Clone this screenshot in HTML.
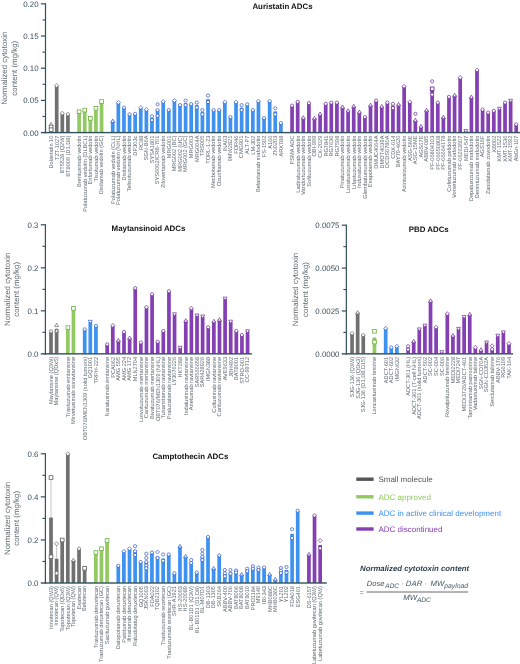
<!DOCTYPE html>
<html><head><meta charset="utf-8"><title>ADC normalized cytotoxin content</title>
<style>
html,body{margin:0;padding:0;background:#fff;}
svg{display:block;font-family:"Liberation Sans",Arial,sans-serif;text-rendering:geometricPrecision;}
</style></head>
<body>
<svg width="520" height="664" viewBox="0 0 520 664">
<rect width="520" height="664" fill="#fff"/>
<rect x="49.25" y="126.10" width="3.7" height="6.50" fill="#707070"/>
<rect x="54.85" y="85.50" width="3.7" height="47.10" fill="#707070"/>
<rect x="60.46" y="113.20" width="3.7" height="19.40" fill="#707070"/>
<rect x="66.06" y="114.20" width="3.7" height="18.40" fill="#707070"/>
<rect x="77.27" y="111.70" width="3.7" height="20.90" fill="#93c962"/>
<rect x="82.87" y="110.10" width="3.7" height="22.50" fill="#93c962"/>
<rect x="88.48" y="118.35" width="3.7" height="14.25" fill="#93c962"/>
<rect x="94.08" y="108.35" width="3.7" height="24.25" fill="#93c962"/>
<rect x="99.69" y="101.50" width="3.7" height="31.10" fill="#93c962"/>
<rect x="110.89" y="120.85" width="3.7" height="11.75" fill="#3d92f0"/>
<rect x="116.50" y="102.60" width="3.7" height="30.00" fill="#3d92f0"/>
<rect x="122.10" y="107.60" width="3.7" height="25.00" fill="#3d92f0"/>
<rect x="127.71" y="114.35" width="3.7" height="18.25" fill="#3d92f0"/>
<rect x="133.31" y="113.85" width="3.7" height="18.75" fill="#3d92f0"/>
<rect x="138.91" y="107.60" width="3.7" height="25.00" fill="#3d92f0"/>
<rect x="144.52" y="109.60" width="3.7" height="23.00" fill="#3d92f0"/>
<rect x="150.12" y="118.10" width="3.7" height="14.50" fill="#3d92f0"/>
<rect x="155.73" y="110.10" width="3.7" height="22.50" fill="#3d92f0"/>
<rect x="161.33" y="101.60" width="3.7" height="31.00" fill="#3d92f0"/>
<rect x="166.93" y="110.10" width="3.7" height="22.50" fill="#3d92f0"/>
<rect x="172.54" y="100.60" width="3.7" height="32.00" fill="#3d92f0"/>
<rect x="178.14" y="105.10" width="3.7" height="27.50" fill="#3d92f0"/>
<rect x="183.75" y="103.10" width="3.7" height="29.50" fill="#3d92f0"/>
<rect x="189.35" y="104.10" width="3.7" height="28.50" fill="#3d92f0"/>
<rect x="194.95" y="105.10" width="3.7" height="27.50" fill="#3d92f0"/>
<rect x="200.56" y="112.10" width="3.7" height="20.50" fill="#3d92f0"/>
<rect x="206.16" y="99.10" width="3.7" height="33.50" fill="#3d92f0"/>
<rect x="211.77" y="110.10" width="3.7" height="22.50" fill="#3d92f0"/>
<rect x="217.37" y="110.10" width="3.7" height="22.50" fill="#3d92f0"/>
<rect x="222.97" y="102.10" width="3.7" height="30.50" fill="#3d92f0"/>
<rect x="228.58" y="117.10" width="3.7" height="15.50" fill="#3d92f0"/>
<rect x="234.18" y="102.10" width="3.7" height="30.50" fill="#3d92f0"/>
<rect x="239.79" y="107.60" width="3.7" height="25.00" fill="#3d92f0"/>
<rect x="245.39" y="104.35" width="3.7" height="28.25" fill="#3d92f0"/>
<rect x="250.99" y="110.10" width="3.7" height="22.50" fill="#3d92f0"/>
<rect x="256.60" y="101.10" width="3.7" height="31.50" fill="#3d92f0"/>
<rect x="262.20" y="118.10" width="3.7" height="14.50" fill="#3d92f0"/>
<rect x="267.81" y="101.10" width="3.7" height="31.50" fill="#3d92f0"/>
<rect x="273.41" y="111.35" width="3.7" height="21.25" fill="#3d92f0"/>
<rect x="279.01" y="123.10" width="3.7" height="9.50" fill="#3d92f0"/>
<rect x="290.22" y="105.60" width="3.7" height="27.00" fill="#843fb2"/>
<rect x="295.83" y="101.85" width="3.7" height="30.75" fill="#843fb2"/>
<rect x="301.43" y="117.60" width="3.7" height="15.00" fill="#843fb2"/>
<rect x="307.03" y="103.10" width="3.7" height="29.50" fill="#843fb2"/>
<rect x="312.64" y="118.10" width="3.7" height="14.50" fill="#843fb2"/>
<rect x="318.24" y="113.85" width="3.7" height="18.75" fill="#843fb2"/>
<rect x="323.85" y="103.85" width="3.7" height="28.75" fill="#843fb2"/>
<rect x="329.45" y="102.60" width="3.7" height="30.00" fill="#843fb2"/>
<rect x="335.05" y="102.60" width="3.7" height="30.00" fill="#843fb2"/>
<rect x="340.66" y="106.85" width="3.7" height="25.75" fill="#843fb2"/>
<rect x="346.26" y="110.60" width="3.7" height="22.00" fill="#843fb2"/>
<rect x="351.87" y="106.10" width="3.7" height="26.50" fill="#843fb2"/>
<rect x="357.47" y="111.85" width="3.7" height="20.75" fill="#843fb2"/>
<rect x="363.07" y="117.10" width="3.7" height="15.50" fill="#843fb2"/>
<rect x="368.68" y="105.10" width="3.7" height="27.50" fill="#843fb2"/>
<rect x="374.28" y="100.60" width="3.7" height="32.00" fill="#843fb2"/>
<rect x="379.89" y="106.35" width="3.7" height="26.25" fill="#843fb2"/>
<rect x="385.49" y="102.60" width="3.7" height="30.00" fill="#843fb2"/>
<rect x="391.09" y="105.60" width="3.7" height="27.00" fill="#843fb2"/>
<rect x="396.70" y="104.35" width="3.7" height="28.25" fill="#843fb2"/>
<rect x="402.30" y="86.35" width="3.7" height="46.25" fill="#843fb2"/>
<rect x="407.91" y="101.85" width="3.7" height="30.75" fill="#843fb2"/>
<rect x="413.51" y="120.10" width="3.7" height="12.50" fill="#843fb2"/>
<rect x="419.11" y="126.35" width="3.7" height="6.25" fill="#843fb2"/>
<rect x="424.72" y="110.10" width="3.7" height="22.50" fill="#843fb2"/>
<rect x="430.32" y="88.85" width="3.7" height="43.75" fill="#843fb2"/>
<rect x="435.93" y="102.60" width="3.7" height="30.00" fill="#843fb2"/>
<rect x="441.53" y="117.10" width="3.7" height="15.50" fill="#843fb2"/>
<rect x="447.13" y="96.85" width="3.7" height="35.75" fill="#843fb2"/>
<rect x="452.74" y="95.10" width="3.7" height="37.50" fill="#843fb2"/>
<rect x="458.34" y="77.60" width="3.7" height="55.00" fill="#843fb2"/>
<rect x="463.95" y="131.10" width="3.7" height="1.50" fill="#843fb2"/>
<rect x="469.55" y="96.85" width="3.7" height="35.75" fill="#843fb2"/>
<rect x="475.15" y="70.10" width="3.7" height="62.50" fill="#843fb2"/>
<rect x="480.76" y="109.60" width="3.7" height="23.00" fill="#843fb2"/>
<rect x="486.36" y="112.60" width="3.7" height="20.00" fill="#843fb2"/>
<rect x="491.97" y="110.85" width="3.7" height="21.75" fill="#843fb2"/>
<rect x="497.57" y="108.85" width="3.7" height="23.75" fill="#843fb2"/>
<rect x="503.17" y="102.60" width="3.7" height="30.00" fill="#843fb2"/>
<rect x="508.78" y="100.85" width="3.7" height="31.75" fill="#843fb2"/>
<rect x="514.38" y="124.35" width="3.7" height="8.25" fill="#843fb2"/>
<path d="M51.10 122.38L53.02 125.84L49.18 125.84Z" fill="#fff" stroke="#666666" stroke-width="0.7"/>
<rect x="49.26" y="125.16" width="3.68" height="3.68" fill="#fff" stroke="#666666" stroke-width="0.85"/>
<rect x="49.26" y="127.86" width="3.68" height="3.68" fill="#fff" stroke="#666666" stroke-width="0.85"/>
<path d="M56.70 83.50L58.70 85.50L56.70 87.50L54.70 85.50Z" fill="#fff" stroke="#666666" stroke-width="0.7"/>
<path d="M62.31 111.20L64.31 113.20L62.31 115.20L60.31 113.20Z" fill="#fff" stroke="#666666" stroke-width="0.7"/>
<circle cx="67.91" cy="114.20" r="1.60" fill="#fff" stroke="#666666" stroke-width="0.7"/>
<rect x="77.28" y="109.86" width="3.68" height="3.68" fill="#fff" stroke="#6fb544" stroke-width="0.85"/>
<rect x="82.88" y="108.26" width="3.68" height="3.68" fill="#fff" stroke="#6fb544" stroke-width="0.85"/>
<rect x="88.49" y="116.51" width="3.68" height="3.68" fill="#fff" stroke="#6fb544" stroke-width="0.85"/>
<rect x="94.09" y="106.51" width="3.68" height="3.68" fill="#fff" stroke="#6fb544" stroke-width="0.85"/>
<rect x="99.70" y="99.66" width="3.68" height="3.68" fill="#fff" stroke="#6fb544" stroke-width="0.85"/>
<path d="M112.74 118.93L114.66 122.39L110.82 122.39Z" fill="#fff" stroke="#2f55c8" stroke-width="0.7"/>
<path d="M118.35 100.60L120.35 102.60L118.35 104.60L116.35 102.60Z" fill="#fff" stroke="#2f55c8" stroke-width="0.7"/>
<circle cx="123.95" cy="107.60" r="1.60" fill="#fff" stroke="#2f55c8" stroke-width="0.7"/>
<circle cx="129.56" cy="114.35" r="1.60" fill="#fff" stroke="#2f55c8" stroke-width="0.7"/>
<circle cx="135.16" cy="113.85" r="1.60" fill="#fff" stroke="#2f55c8" stroke-width="0.7"/>
<path d="M140.76 105.60L142.76 107.60L140.76 109.60L138.76 107.60Z" fill="#fff" stroke="#2f55c8" stroke-width="0.7"/>
<path d="M146.37 107.60L148.37 109.60L146.37 111.60L144.37 109.60Z" fill="#fff" stroke="#2f55c8" stroke-width="0.7"/>
<circle cx="151.97" cy="116.35" r="1.60" fill="#fff" stroke="#2f55c8" stroke-width="0.7"/>
<circle cx="151.97" cy="120.10" r="1.60" fill="#fff" stroke="#2f55c8" stroke-width="0.7"/>
<circle cx="157.58" cy="104.35" r="1.60" fill="#fff" stroke="#2f55c8" stroke-width="0.7"/>
<circle cx="157.58" cy="110.10" r="1.60" fill="#fff" stroke="#2f55c8" stroke-width="0.7"/>
<circle cx="157.58" cy="115.85" r="1.60" fill="#fff" stroke="#2f55c8" stroke-width="0.7"/>
<path d="M163.18 99.60L165.18 101.60L163.18 103.60L161.18 101.60Z" fill="#fff" stroke="#2f55c8" stroke-width="0.7"/>
<circle cx="168.78" cy="110.10" r="1.60" fill="#fff" stroke="#2f55c8" stroke-width="0.7"/>
<path d="M174.39 98.60L176.39 100.60L174.39 102.60L172.39 100.60Z" fill="#fff" stroke="#2f55c8" stroke-width="0.7"/>
<circle cx="179.99" cy="105.10" r="1.60" fill="#fff" stroke="#2f55c8" stroke-width="0.7"/>
<circle cx="185.60" cy="100.60" r="1.60" fill="#fff" stroke="#2f55c8" stroke-width="0.7"/>
<circle cx="185.60" cy="105.10" r="1.60" fill="#fff" stroke="#2f55c8" stroke-width="0.7"/>
<circle cx="191.20" cy="104.10" r="1.60" fill="#fff" stroke="#2f55c8" stroke-width="0.7"/>
<circle cx="196.80" cy="102.60" r="1.60" fill="#fff" stroke="#2f55c8" stroke-width="0.7"/>
<circle cx="196.80" cy="107.60" r="1.60" fill="#fff" stroke="#2f55c8" stroke-width="0.7"/>
<circle cx="202.41" cy="110.10" r="1.60" fill="#fff" stroke="#2f55c8" stroke-width="0.7"/>
<circle cx="202.41" cy="114.35" r="1.60" fill="#fff" stroke="#2f55c8" stroke-width="0.7"/>
<circle cx="208.01" cy="95.60" r="1.60" fill="#fff" stroke="#2f55c8" stroke-width="0.7"/>
<circle cx="208.01" cy="102.10" r="1.60" fill="#fff" stroke="#2f55c8" stroke-width="0.7"/>
<circle cx="213.62" cy="110.10" r="1.60" fill="#fff" stroke="#2f55c8" stroke-width="0.7"/>
<circle cx="219.22" cy="110.10" r="1.60" fill="#fff" stroke="#2f55c8" stroke-width="0.7"/>
<path d="M224.82 100.10L226.82 102.10L224.82 104.10L222.82 102.10Z" fill="#fff" stroke="#2f55c8" stroke-width="0.7"/>
<circle cx="230.43" cy="117.10" r="1.60" fill="#fff" stroke="#2f55c8" stroke-width="0.7"/>
<path d="M236.03 100.10L238.03 102.10L236.03 104.10L234.03 102.10Z" fill="#fff" stroke="#2f55c8" stroke-width="0.7"/>
<circle cx="241.64" cy="105.10" r="1.60" fill="#fff" stroke="#2f55c8" stroke-width="0.7"/>
<circle cx="241.64" cy="110.10" r="1.60" fill="#fff" stroke="#2f55c8" stroke-width="0.7"/>
<circle cx="247.24" cy="104.35" r="1.60" fill="#fff" stroke="#2f55c8" stroke-width="0.7"/>
<circle cx="252.84" cy="110.10" r="1.60" fill="#fff" stroke="#2f55c8" stroke-width="0.7"/>
<path d="M258.45 99.10L260.45 101.10L258.45 103.10L256.45 101.10Z" fill="#fff" stroke="#2f55c8" stroke-width="0.7"/>
<circle cx="264.05" cy="118.10" r="1.60" fill="#fff" stroke="#2f55c8" stroke-width="0.7"/>
<path d="M269.66 99.10L271.66 101.10L269.66 103.10L267.66 101.10Z" fill="#fff" stroke="#2f55c8" stroke-width="0.7"/>
<circle cx="275.26" cy="108.35" r="1.60" fill="#fff" stroke="#2f55c8" stroke-width="0.7"/>
<circle cx="275.26" cy="114.35" r="1.60" fill="#fff" stroke="#2f55c8" stroke-width="0.7"/>
<circle cx="280.86" cy="123.10" r="1.60" fill="#fff" stroke="#2f55c8" stroke-width="0.7"/>
<circle cx="292.07" cy="105.60" r="1.60" fill="#fff" stroke="#6a2c96" stroke-width="0.7"/>
<circle cx="297.68" cy="101.85" r="1.60" fill="#fff" stroke="#6a2c96" stroke-width="0.7"/>
<path d="M303.28 115.68L305.20 119.14L301.36 119.14Z" fill="#fff" stroke="#6a2c96" stroke-width="0.7"/>
<circle cx="308.88" cy="103.10" r="1.60" fill="#fff" stroke="#6a2c96" stroke-width="0.7"/>
<path d="M314.49 116.18L316.41 119.64L312.57 119.64Z" fill="#fff" stroke="#6a2c96" stroke-width="0.7"/>
<path d="M320.09 111.93L322.01 115.39L318.17 115.39Z" fill="#fff" stroke="#6a2c96" stroke-width="0.7"/>
<circle cx="325.70" cy="103.85" r="1.60" fill="#fff" stroke="#6a2c96" stroke-width="0.7"/>
<circle cx="331.30" cy="102.60" r="1.60" fill="#fff" stroke="#6a2c96" stroke-width="0.7"/>
<circle cx="336.90" cy="102.60" r="1.60" fill="#fff" stroke="#6a2c96" stroke-width="0.7"/>
<path d="M342.51 104.93L344.43 108.39L340.59 108.39Z" fill="#fff" stroke="#6a2c96" stroke-width="0.7"/>
<path d="M348.11 108.68L350.03 112.14L346.19 112.14Z" fill="#fff" stroke="#6a2c96" stroke-width="0.7"/>
<path d="M353.72 104.18L355.64 107.64L351.80 107.64Z" fill="#fff" stroke="#6a2c96" stroke-width="0.7"/>
<path d="M359.32 109.93L361.24 113.39L357.40 113.39Z" fill="#fff" stroke="#6a2c96" stroke-width="0.7"/>
<circle cx="364.92" cy="117.10" r="1.60" fill="#fff" stroke="#6a2c96" stroke-width="0.7"/>
<path d="M370.53 103.18L372.45 106.64L368.61 106.64Z" fill="#fff" stroke="#6a2c96" stroke-width="0.7"/>
<circle cx="376.13" cy="100.60" r="1.60" fill="#fff" stroke="#6a2c96" stroke-width="0.7"/>
<path d="M381.74 104.43L383.66 107.89L379.82 107.89Z" fill="#fff" stroke="#6a2c96" stroke-width="0.7"/>
<circle cx="387.34" cy="102.60" r="1.60" fill="#fff" stroke="#6a2c96" stroke-width="0.7"/>
<circle cx="392.94" cy="103.85" r="1.60" fill="#fff" stroke="#6a2c96" stroke-width="0.7"/>
<circle cx="392.94" cy="108.10" r="1.60" fill="#fff" stroke="#6a2c96" stroke-width="0.7"/>
<path d="M398.55 102.43L400.47 105.89L396.63 105.89Z" fill="#fff" stroke="#6a2c96" stroke-width="0.7"/>
<path d="M404.15 84.35L406.15 86.35L404.15 88.35L402.15 86.35Z" fill="#fff" stroke="#6a2c96" stroke-width="0.7"/>
<path d="M409.76 99.85L411.76 101.85L409.76 103.85L407.76 101.85Z" fill="#fff" stroke="#6a2c96" stroke-width="0.7"/>
<circle cx="415.36" cy="113.85" r="1.60" fill="#fff" stroke="#6a2c96" stroke-width="0.7"/>
<path d="M415.36 118.18L417.28 121.64L413.44 121.64Z" fill="#fff" stroke="#6a2c96" stroke-width="0.7"/>
<path d="M420.96 124.43L422.88 127.89L419.04 127.89Z" fill="#fff" stroke="#6a2c96" stroke-width="0.7"/>
<path d="M426.57 108.18L428.49 111.64L424.65 111.64Z" fill="#fff" stroke="#6a2c96" stroke-width="0.7"/>
<circle cx="432.17" cy="81.35" r="1.60" fill="#fff" stroke="#6a2c96" stroke-width="0.7"/>
<rect x="430.33" y="87.01" width="3.68" height="3.68" fill="#fff" stroke="#6a2c96" stroke-width="0.85"/>
<circle cx="432.17" cy="94.60" r="1.60" fill="#fff" stroke="#6a2c96" stroke-width="0.7"/>
<circle cx="437.78" cy="102.60" r="1.60" fill="#fff" stroke="#6a2c96" stroke-width="0.7"/>
<path d="M443.38 115.18L445.30 118.64L441.46 118.64Z" fill="#fff" stroke="#6a2c96" stroke-width="0.7"/>
<circle cx="448.98" cy="96.85" r="1.60" fill="#fff" stroke="#6a2c96" stroke-width="0.7"/>
<path d="M454.59 93.18L456.51 96.64L452.67 96.64Z" fill="#fff" stroke="#6a2c96" stroke-width="0.7"/>
<path d="M460.19 75.60L462.19 77.60L460.19 79.60L458.19 77.60Z" fill="#fff" stroke="#6a2c96" stroke-width="0.7"/>
<path d="M465.80 133.02L467.72 129.56L463.88 129.56Z" fill="#fff" stroke="#6a2c96" stroke-width="0.7"/>
<path d="M471.40 94.93L473.32 98.39L469.48 98.39Z" fill="#fff" stroke="#6a2c96" stroke-width="0.7"/>
<path d="M477.00 68.10L479.00 70.10L477.00 72.10L475.00 70.10Z" fill="#fff" stroke="#6a2c96" stroke-width="0.7"/>
<circle cx="482.61" cy="109.60" r="1.60" fill="#fff" stroke="#6a2c96" stroke-width="0.7"/>
<circle cx="488.21" cy="112.60" r="1.60" fill="#fff" stroke="#6a2c96" stroke-width="0.7"/>
<circle cx="493.82" cy="110.85" r="1.60" fill="#fff" stroke="#6a2c96" stroke-width="0.7"/>
<path d="M499.42 110.77L501.34 107.31L497.50 107.31Z" fill="#fff" stroke="#6a2c96" stroke-width="0.7"/>
<circle cx="505.02" cy="102.60" r="1.60" fill="#fff" stroke="#6a2c96" stroke-width="0.7"/>
<path d="M510.63 102.77L512.55 99.31L508.71 99.31Z" fill="#fff" stroke="#6a2c96" stroke-width="0.7"/>
<circle cx="516.23" cy="124.35" r="1.60" fill="#fff" stroke="#6a2c96" stroke-width="0.7"/>
<rect x="44.90" y="3.25" width="1.2" height="130.00" fill="#34505c"/>
<rect x="44.90" y="131.90" width="475.10" height="1.4" fill="#34505c"/>
<rect x="40.90" y="131.90" width="4.6" height="1.4" fill="#34505c"/>
<text x="38.60" y="135.55" text-anchor="end" font-size="7.9" fill="#3a4e5a">0.00</text>
<rect x="42.50" y="115.96" width="3.0" height="1.1" fill="#34505c"/>
<rect x="40.90" y="99.81" width="4.6" height="1.2" fill="#34505c"/>
<text x="38.60" y="103.36" text-anchor="end" font-size="7.9" fill="#3a4e5a">0.05</text>
<rect x="42.50" y="83.77" width="3.0" height="1.1" fill="#34505c"/>
<rect x="40.90" y="67.62" width="4.6" height="1.2" fill="#34505c"/>
<text x="38.60" y="71.17" text-anchor="end" font-size="7.9" fill="#3a4e5a">0.10</text>
<rect x="42.50" y="51.58" width="3.0" height="1.1" fill="#34505c"/>
<rect x="40.90" y="35.44" width="4.6" height="1.2" fill="#34505c"/>
<text x="38.60" y="38.99" text-anchor="end" font-size="7.9" fill="#3a4e5a">0.15</text>
<rect x="42.50" y="19.39" width="3.0" height="1.1" fill="#34505c"/>
<rect x="40.90" y="3.25" width="4.6" height="1.2" fill="#34505c"/>
<text x="38.60" y="6.80" text-anchor="end" font-size="7.9" fill="#3a4e5a">0.20</text>
<text transform="translate(6.90 68.22) rotate(-90)" text-anchor="middle" font-size="7.9" fill="#5f6a71">Normalized cytotoxin</text>
<text transform="translate(16.60 68.22) rotate(-90)" text-anchor="middle" font-size="7.9" fill="#5f6a71">content (mg/kg)</text>
<text x="282.5" y="9.2" text-anchor="middle" font-size="7.9" font-weight="bold" fill="#111">Auristatin ADCs</text>
<g font-size="5.65" fill="#606c74"><text transform="translate(52.95 135.60) rotate(-90)" text-anchor="end">Dolastatin 10</text><text transform="translate(58.55 135.60) rotate(-90)" text-anchor="end">TZT-1027</text><text transform="translate(64.16 135.60) rotate(-90)" text-anchor="end">BT5528 (Q2W)</text><text transform="translate(69.76 135.60) rotate(-90)" text-anchor="end">BT8009 (D1,D8)</text><text transform="translate(80.97 135.60) rotate(-90)" text-anchor="end">Brentuximab vedotin</text><text transform="translate(86.57 135.60) rotate(-90)" text-anchor="end">Polatuzumab vedotin (DLBCL)</text><text transform="translate(92.18 135.60) rotate(-90)" text-anchor="end">Enfortumab vedotin</text><text transform="translate(97.78 135.60) rotate(-90)" text-anchor="end">Tisotumab vedotin</text><text transform="translate(103.39 135.60) rotate(-90)" text-anchor="end">Disitamab vedotin (GC)</text><text transform="translate(114.59 135.60) rotate(-90)" text-anchor="end">Polatuzumab vedotin (CLL)</text><text transform="translate(120.20 135.60) rotate(-90)" text-anchor="end">Polatuzumab vedotin (NHL)</text><text transform="translate(125.80 135.60) rotate(-90)" text-anchor="end">Disitamab vedotin</text><text transform="translate(131.41 135.60) rotate(-90)" text-anchor="end">Telisotuzumab vedotin</text><text transform="translate(137.01 135.60) rotate(-90)" text-anchor="end">DP303c</text><text transform="translate(142.61 135.60) rotate(-90)" text-anchor="end">RC88</text><text transform="translate(148.22 135.60) rotate(-90)" text-anchor="end">SGN-B6A</text><text transform="translate(153.82 135.60) rotate(-90)" text-anchor="end">SYSA1801</text><text transform="translate(159.43 135.60) rotate(-90)" text-anchor="end">SYS6002/CRB-701</text><text transform="translate(165.03 135.60) rotate(-90)" text-anchor="end">Zilovertamab vedotin</text><text transform="translate(170.63 135.60) rotate(-90)" text-anchor="end">MRG001</text><text transform="translate(176.24 135.60) rotate(-90)" text-anchor="end">MRG002 (BC)</text><text transform="translate(181.84 135.60) rotate(-90)" text-anchor="end">MRG002 (UC)</text><text transform="translate(187.45 135.60) rotate(-90)" text-anchor="end">MRG002 (GC)</text><text transform="translate(193.05 135.60) rotate(-90)" text-anchor="end">MRG003</text><text transform="translate(198.65 135.60) rotate(-90)" text-anchor="end">MRG004A</text><text transform="translate(204.26 135.60) rotate(-90)" text-anchor="end">TRS005</text><text transform="translate(209.86 135.60) rotate(-90)" text-anchor="end">TORL-1-23</text><text transform="translate(215.47 135.60) rotate(-90)" text-anchor="end">Mecbotamab vedotin</text><text transform="translate(221.07 135.60) rotate(-90)" text-anchor="end">Ozuriftamab vedotin</text><text transform="translate(226.67 135.60) rotate(-90)" text-anchor="end">INA03</text><text transform="translate(232.28 135.60) rotate(-90)" text-anchor="end">9MW2821</text><text transform="translate(237.88 135.60) rotate(-90)" text-anchor="end">FOR46</text><text transform="translate(243.49 135.60) rotate(-90)" text-anchor="end">CMG901</text><text transform="translate(249.09 135.60) rotate(-90)" text-anchor="end">ALT-P7</text><text transform="translate(254.69 135.60) rotate(-90)" text-anchor="end">LM-302</text><text transform="translate(260.30 135.60) rotate(-90)" text-anchor="end">Belantamab mafodotin</text><text transform="translate(265.90 135.60) rotate(-90)" text-anchor="end">FS-1502</text><text transform="translate(271.51 135.60) rotate(-90)" text-anchor="end">A166</text><text transform="translate(277.11 135.60) rotate(-90)" text-anchor="end">ZN0203</text><text transform="translate(282.71 135.60) rotate(-90)" text-anchor="end">ARX788</text><text transform="translate(293.92 135.60) rotate(-90)" text-anchor="end">PSMA ADC</text><text transform="translate(299.53 135.60) rotate(-90)" text-anchor="end">Ladiratuzumab vedotin</text><text transform="translate(305.13 135.60) rotate(-90)" text-anchor="end">Vandortuzumab vedotin</text><text transform="translate(310.73 135.60) rotate(-90)" text-anchor="end">Sofituzumab vedotin</text><text transform="translate(316.34 135.60) rotate(-90)" text-anchor="end">OBI-999</text><text transform="translate(321.94 135.60) rotate(-90)" text-anchor="end">CX-2029</text><text transform="translate(327.55 135.60) rotate(-90)" text-anchor="end">RG7841</text><text transform="translate(333.15 135.60) rotate(-90)" text-anchor="end">RG7636</text><text transform="translate(338.75 135.60) rotate(-90)" text-anchor="end">RG7598</text><text transform="translate(344.36 135.60) rotate(-90)" text-anchor="end">Pinatuzumab vedotin</text><text transform="translate(349.96 135.60) rotate(-90)" text-anchor="end">Losatuxizumab vedotin</text><text transform="translate(355.57 135.60) rotate(-90)" text-anchor="end">Lifastuzumab vedotin</text><text transform="translate(361.17 135.60) rotate(-90)" text-anchor="end">Indusatumab vedotin</text><text transform="translate(366.77 135.60) rotate(-90)" text-anchor="end">Glembatumumab vedotin</text><text transform="translate(372.38 135.60) rotate(-90)" text-anchor="end">Enapotamab vedotin</text><text transform="translate(377.98 135.60) rotate(-90)" text-anchor="end">DMUC4064A</text><text transform="translate(383.59 135.60) rotate(-90)" text-anchor="end">DMOT4039A</text><text transform="translate(389.19 135.60) rotate(-90)" text-anchor="end">DCDS0780A</text><text transform="translate(394.79 135.60) rotate(-90)" text-anchor="end">CDX-014</text><text transform="translate(400.40 135.60) rotate(-90)" text-anchor="end">BAY79-4620</text><text transform="translate(406.00 135.60) rotate(-90)" text-anchor="end">Azintuxizumab vedotin</text><text transform="translate(411.61 135.60) rotate(-90)" text-anchor="end">ASG-5ME</text><text transform="translate(417.21 135.60) rotate(-90)" text-anchor="end">ASG-15ME</text><text transform="translate(422.81 135.60) rotate(-90)" text-anchor="end">AGS67E</text><text transform="translate(428.42 135.60) rotate(-90)" text-anchor="end">ABBV-085</text><text transform="translate(434.02 135.60) rotate(-90)" text-anchor="end">PF-06804103</text><text transform="translate(439.63 135.60) rotate(-90)" text-anchor="end">PF-06650808</text><text transform="translate(445.23 135.60) rotate(-90)" text-anchor="end">PF-06664178</text><text transform="translate(450.83 135.60) rotate(-90)" text-anchor="end">Cofetuzumab pelidotin</text><text transform="translate(456.44 135.60) rotate(-90)" text-anchor="end">Vorsetuzumab mafodotin</text><text transform="translate(462.04 135.60) rotate(-90)" text-anchor="end">PF-06263507</text><text transform="translate(467.65 135.60) rotate(-90)" text-anchor="end">MEDI-547</text><text transform="translate(473.25 135.60) rotate(-90)" text-anchor="end">Depatuxizumab mafodotin</text><text transform="translate(478.85 135.60) rotate(-90)" text-anchor="end">Denintuzumab mafodotin</text><text transform="translate(484.46 135.60) rotate(-90)" text-anchor="end">AGS16F</text><text transform="translate(490.06 135.60) rotate(-90)" text-anchor="end">Zanidatamab zovodotin</text><text transform="translate(495.67 135.60) rotate(-90)" text-anchor="end">XB002</text><text transform="translate(501.27 135.60) rotate(-90)" text-anchor="end">XMT-1522</text><text transform="translate(506.87 135.60) rotate(-90)" text-anchor="end">XMT-1536</text><text transform="translate(512.48 135.60) rotate(-90)" text-anchor="end">XMT-1592</text><text transform="translate(518.08 135.60) rotate(-90)" text-anchor="end">AbGn-107</text></g>
<rect x="49.15" y="331.35" width="3.7" height="22.50" fill="#707070"/>
<rect x="54.77" y="328.85" width="3.7" height="25.00" fill="#707070"/>
<rect x="66.00" y="327.60" width="3.7" height="26.25" fill="#93c962"/>
<rect x="71.61" y="308.35" width="3.7" height="45.50" fill="#93c962"/>
<rect x="82.85" y="329.35" width="3.7" height="24.50" fill="#3d92f0"/>
<rect x="88.46" y="321.85" width="3.7" height="32.00" fill="#3d92f0"/>
<rect x="94.08" y="325.85" width="3.7" height="28.00" fill="#3d92f0"/>
<rect x="105.31" y="344.35" width="3.7" height="9.50" fill="#843fb2"/>
<rect x="110.93" y="325.45" width="3.7" height="28.40" fill="#843fb2"/>
<rect x="116.54" y="340.35" width="3.7" height="13.50" fill="#843fb2"/>
<rect x="122.16" y="331.95" width="3.7" height="21.90" fill="#843fb2"/>
<rect x="127.77" y="337.85" width="3.7" height="16.00" fill="#843fb2"/>
<rect x="133.39" y="288.15" width="3.7" height="65.70" fill="#843fb2"/>
<rect x="139.01" y="342.45" width="3.7" height="11.40" fill="#843fb2"/>
<rect x="144.62" y="307.15" width="3.7" height="46.70" fill="#843fb2"/>
<rect x="150.24" y="294.25" width="3.7" height="59.60" fill="#843fb2"/>
<rect x="155.85" y="341.75" width="3.7" height="12.10" fill="#843fb2"/>
<rect x="161.47" y="330.95" width="3.7" height="22.90" fill="#843fb2"/>
<rect x="167.09" y="291.25" width="3.7" height="62.60" fill="#843fb2"/>
<rect x="172.70" y="314.35" width="3.7" height="39.50" fill="#843fb2"/>
<rect x="178.32" y="347.85" width="3.7" height="6.00" fill="#843fb2"/>
<rect x="183.93" y="320.55" width="3.7" height="33.30" fill="#843fb2"/>
<rect x="189.55" y="308.15" width="3.7" height="45.70" fill="#843fb2"/>
<rect x="195.17" y="315.55" width="3.7" height="38.30" fill="#843fb2"/>
<rect x="200.78" y="316.55" width="3.7" height="37.30" fill="#843fb2"/>
<rect x="206.40" y="327.25" width="3.7" height="26.60" fill="#843fb2"/>
<rect x="212.01" y="321.15" width="3.7" height="32.70" fill="#843fb2"/>
<rect x="217.63" y="319.55" width="3.7" height="34.30" fill="#843fb2"/>
<rect x="223.25" y="298.65" width="3.7" height="55.20" fill="#843fb2"/>
<rect x="228.86" y="321.75" width="3.7" height="32.10" fill="#843fb2"/>
<rect x="234.48" y="330.95" width="3.7" height="22.90" fill="#843fb2"/>
<rect x="240.09" y="334.95" width="3.7" height="18.90" fill="#843fb2"/>
<rect x="245.71" y="331.25" width="3.7" height="22.60" fill="#843fb2"/>
<circle cx="51.00" cy="331.35" r="1.60" fill="#fff" stroke="#666666" stroke-width="0.7"/>
<path d="M56.62 323.18L58.54 326.64L54.70 326.64Z" fill="#fff" stroke="#666666" stroke-width="0.7"/>
<path d="M56.62 328.68L58.54 332.14L54.70 332.14Z" fill="#fff" stroke="#666666" stroke-width="0.7"/>
<rect x="66.01" y="325.76" width="3.68" height="3.68" fill="#fff" stroke="#6fb544" stroke-width="0.85"/>
<rect x="71.62" y="306.51" width="3.68" height="3.68" fill="#fff" stroke="#6fb544" stroke-width="0.85"/>
<circle cx="84.70" cy="329.35" r="1.60" fill="#fff" stroke="#2f55c8" stroke-width="0.7"/>
<path d="M90.31 323.77L92.23 320.31L88.39 320.31Z" fill="#fff" stroke="#2f55c8" stroke-width="0.7"/>
<circle cx="95.93" cy="325.85" r="1.60" fill="#fff" stroke="#2f55c8" stroke-width="0.7"/>
<circle cx="107.16" cy="344.35" r="1.60" fill="#fff" stroke="#6a2c96" stroke-width="0.7"/>
<path d="M112.78 323.45L114.78 325.45L112.78 327.45L110.78 325.45Z" fill="#fff" stroke="#6a2c96" stroke-width="0.7"/>
<path d="M118.39 338.43L120.31 341.89L116.47 341.89Z" fill="#fff" stroke="#6a2c96" stroke-width="0.7"/>
<circle cx="124.01" cy="331.95" r="1.60" fill="#fff" stroke="#6a2c96" stroke-width="0.7"/>
<path d="M129.62 335.93L131.54 339.39L127.70 339.39Z" fill="#fff" stroke="#6a2c96" stroke-width="0.7"/>
<circle cx="135.24" cy="288.15" r="1.60" fill="#fff" stroke="#6a2c96" stroke-width="0.7"/>
<circle cx="140.86" cy="342.45" r="1.60" fill="#fff" stroke="#6a2c96" stroke-width="0.7"/>
<path d="M146.47 305.15L148.47 307.15L146.47 309.15L144.47 307.15Z" fill="#fff" stroke="#6a2c96" stroke-width="0.7"/>
<circle cx="152.09" cy="294.25" r="1.60" fill="#fff" stroke="#6a2c96" stroke-width="0.7"/>
<circle cx="157.70" cy="341.75" r="1.60" fill="#fff" stroke="#6a2c96" stroke-width="0.7"/>
<circle cx="163.32" cy="330.95" r="1.60" fill="#fff" stroke="#6a2c96" stroke-width="0.7"/>
<circle cx="168.94" cy="291.25" r="1.60" fill="#fff" stroke="#6a2c96" stroke-width="0.7"/>
<path d="M174.55 316.27L176.47 312.81L172.63 312.81Z" fill="#fff" stroke="#6a2c96" stroke-width="0.7"/>
<path d="M180.17 349.77L182.09 346.31L178.25 346.31Z" fill="#fff" stroke="#6a2c96" stroke-width="0.7"/>
<path d="M185.78 318.63L187.70 322.09L183.86 322.09Z" fill="#fff" stroke="#6a2c96" stroke-width="0.7"/>
<path d="M191.40 306.15L193.40 308.15L191.40 310.15L189.40 308.15Z" fill="#fff" stroke="#6a2c96" stroke-width="0.7"/>
<path d="M197.02 317.47L198.94 314.01L195.10 314.01Z" fill="#fff" stroke="#6a2c96" stroke-width="0.7"/>
<path d="M202.63 318.47L204.55 315.01L200.71 315.01Z" fill="#fff" stroke="#6a2c96" stroke-width="0.7"/>
<circle cx="208.25" cy="327.25" r="1.60" fill="#fff" stroke="#6a2c96" stroke-width="0.7"/>
<path d="M213.86 319.23L215.78 322.69L211.94 322.69Z" fill="#fff" stroke="#6a2c96" stroke-width="0.7"/>
<path d="M219.48 317.63L221.40 321.09L217.56 321.09Z" fill="#fff" stroke="#6a2c96" stroke-width="0.7"/>
<path d="M225.10 300.57L227.02 297.11L223.18 297.11Z" fill="#fff" stroke="#6a2c96" stroke-width="0.7"/>
<path d="M230.71 323.67L232.63 320.21L228.79 320.21Z" fill="#fff" stroke="#6a2c96" stroke-width="0.7"/>
<circle cx="236.33" cy="330.95" r="1.60" fill="#fff" stroke="#6a2c96" stroke-width="0.7"/>
<circle cx="241.94" cy="334.95" r="1.60" fill="#fff" stroke="#6a2c96" stroke-width="0.7"/>
<path d="M247.56 333.17L249.48 329.71L245.64 329.71Z" fill="#fff" stroke="#6a2c96" stroke-width="0.7"/>
<rect x="44.80" y="224.20" width="1.2" height="130.30" fill="#34505c"/>
<rect x="44.80" y="353.15" width="207.10" height="1.4" fill="#34505c"/>
<rect x="40.80" y="353.15" width="4.6" height="1.4" fill="#34505c"/>
<text x="38.50" y="356.80" text-anchor="end" font-size="7.9" fill="#3a4e5a">0.0</text>
<rect x="42.40" y="331.79" width="3.0" height="1.1" fill="#34505c"/>
<rect x="40.80" y="310.23" width="4.6" height="1.2" fill="#34505c"/>
<text x="38.50" y="313.78" text-anchor="end" font-size="7.9" fill="#3a4e5a">0.1</text>
<rect x="42.40" y="288.78" width="3.0" height="1.1" fill="#34505c"/>
<rect x="40.80" y="267.22" width="4.6" height="1.2" fill="#34505c"/>
<text x="38.50" y="270.77" text-anchor="end" font-size="7.9" fill="#3a4e5a">0.2</text>
<rect x="42.40" y="245.76" width="3.0" height="1.1" fill="#34505c"/>
<rect x="40.80" y="224.20" width="4.6" height="1.2" fill="#34505c"/>
<text x="38.50" y="227.75" text-anchor="end" font-size="7.9" fill="#3a4e5a">0.3</text>
<text transform="translate(9.80 289.33) rotate(-90)" text-anchor="middle" font-size="7.9" fill="#5f6a71">Normalized cytotoxin</text>
<text transform="translate(19.30 289.33) rotate(-90)" text-anchor="middle" font-size="7.9" fill="#5f6a71">content (mg/kg)</text>
<text x="148.5" y="231.4" text-anchor="middle" font-size="7.9" font-weight="bold" fill="#111">Maytansinoid ADCs</text>
<g font-size="5.65" fill="#606c74"><text transform="translate(52.85 356.85) rotate(-90)" text-anchor="end">Maytansine (Q3W)</text><text transform="translate(58.47 356.85) rotate(-90)" text-anchor="end">Maytansine (QDx5)</text><text transform="translate(69.70 356.85) rotate(-90)" text-anchor="end">Trastuzumab emtansine</text><text transform="translate(75.31 356.85) rotate(-90)" text-anchor="end">Mirvetuximab soravtansine</text><text transform="translate(86.55 356.85) rotate(-90)" text-anchor="end">OBT076/MEN1309 (solid tumors)</text><text transform="translate(92.16 356.85) rotate(-90)" text-anchor="end">GQ1001</text><text transform="translate(97.78 356.85) rotate(-90)" text-anchor="end">TRPH-222</text><text transform="translate(109.01 356.85) rotate(-90)" text-anchor="end">Naratuximab emtansine</text><text transform="translate(114.63 356.85) rotate(-90)" text-anchor="end">PCA062</text><text transform="translate(120.24 356.85) rotate(-90)" text-anchor="end">AMG 595</text><text transform="translate(125.86 356.85) rotate(-90)" text-anchor="end">AMG 224</text><text transform="translate(131.47 356.85) rotate(-90)" text-anchor="end">AMG 172</text><text transform="translate(137.09 356.85) rotate(-90)" text-anchor="end">MLN2704</text><text transform="translate(142.71 356.85) rotate(-90)" text-anchor="end">Lorvotuzumab mertansine</text><text transform="translate(148.32 356.85) rotate(-90)" text-anchor="end">Cantuzumab mertansine</text><text transform="translate(153.94 356.85) rotate(-90)" text-anchor="end">Bivatuzumab mertansine</text><text transform="translate(159.55 356.85) rotate(-90)" text-anchor="end">OBT076/MEN1309 (NHL)</text><text transform="translate(165.17 356.85) rotate(-90)" text-anchor="end">Tusamitamab ravtansine</text><text transform="translate(170.79 356.85) rotate(-90)" text-anchor="end">Praluzatamab ravtansine</text><text transform="translate(176.40 356.85) rotate(-90)" text-anchor="end">LY3076226</text><text transform="translate(182.02 356.85) rotate(-90)" text-anchor="end">HKT288</text><text transform="translate(187.63 356.85) rotate(-90)" text-anchor="end">Indatuximab ravtansine</text><text transform="translate(193.25 356.85) rotate(-90)" text-anchor="end">Anetumab ravtansine</text><text transform="translate(198.87 356.85) rotate(-90)" text-anchor="end">SAR566658</text><text transform="translate(204.48 356.85) rotate(-90)" text-anchor="end">SAR428926</text><text transform="translate(210.10 356.85) rotate(-90)" text-anchor="end">IMGN388</text><text transform="translate(215.71 356.85) rotate(-90)" text-anchor="end">Coltuximab ravtansine</text><text transform="translate(221.33 356.85) rotate(-90)" text-anchor="end">Cantuzumab ravtansine</text><text transform="translate(226.95 356.85) rotate(-90)" text-anchor="end">AVE9633</text><text transform="translate(232.56 356.85) rotate(-90)" text-anchor="end">JBH492</text><text transform="translate(238.18 356.85) rotate(-90)" text-anchor="end">BAT8001</text><text transform="translate(243.79 356.85) rotate(-90)" text-anchor="end">STRO-001</text><text transform="translate(249.41 356.85) rotate(-90)" text-anchor="end">CC-99712</text></g>
<rect x="350.20" y="333.25" width="3.7" height="20.60" fill="#707070"/>
<rect x="355.80" y="312.50" width="3.7" height="41.35" fill="#707070"/>
<rect x="361.41" y="335.00" width="3.7" height="18.85" fill="#707070"/>
<rect x="372.62" y="337.50" width="3.7" height="16.35" fill="#93c962"/>
<rect x="383.82" y="328.25" width="3.7" height="25.60" fill="#3d92f0"/>
<rect x="389.43" y="347.50" width="3.7" height="6.35" fill="#3d92f0"/>
<rect x="395.03" y="346.25" width="3.7" height="7.60" fill="#3d92f0"/>
<rect x="406.24" y="347.45" width="3.7" height="6.40" fill="#843fb2"/>
<rect x="411.84" y="341.20" width="3.7" height="12.65" fill="#843fb2"/>
<rect x="417.45" y="329.45" width="3.7" height="24.40" fill="#843fb2"/>
<rect x="423.05" y="325.70" width="3.7" height="28.15" fill="#843fb2"/>
<rect x="428.66" y="300.70" width="3.7" height="53.15" fill="#843fb2"/>
<rect x="434.26" y="327.20" width="3.7" height="26.65" fill="#843fb2"/>
<rect x="439.86" y="352.20" width="3.7" height="1.65" fill="#843fb2"/>
<rect x="445.47" y="313.70" width="3.7" height="40.15" fill="#843fb2"/>
<rect x="451.07" y="335.40" width="3.7" height="18.45" fill="#843fb2"/>
<rect x="456.68" y="328.90" width="3.7" height="24.95" fill="#843fb2"/>
<rect x="462.28" y="317.10" width="3.7" height="36.75" fill="#843fb2"/>
<rect x="467.88" y="314.20" width="3.7" height="39.65" fill="#843fb2"/>
<rect x="473.49" y="347.40" width="3.7" height="6.45" fill="#843fb2"/>
<rect x="479.09" y="349.70" width="3.7" height="4.15" fill="#843fb2"/>
<rect x="484.70" y="342.50" width="3.7" height="11.35" fill="#843fb2"/>
<rect x="490.30" y="349.30" width="3.7" height="4.55" fill="#843fb2"/>
<rect x="495.90" y="335.80" width="3.7" height="18.05" fill="#843fb2"/>
<rect x="501.51" y="332.40" width="3.7" height="21.45" fill="#843fb2"/>
<rect x="507.11" y="343.50" width="3.7" height="10.35" fill="#843fb2"/>
<path d="M352.05 331.25L354.05 333.25L352.05 335.25L350.05 333.25Z" fill="#fff" stroke="#666666" stroke-width="0.7"/>
<path d="M357.65 310.58L359.57 314.04L355.73 314.04Z" fill="#fff" stroke="#666666" stroke-width="0.7"/>
<path d="M363.26 333.00L365.26 335.00L363.26 337.00L361.26 335.00Z" fill="#fff" stroke="#666666" stroke-width="0.7"/>
<rect x="372.63" y="329.41" width="3.68" height="3.68" fill="#fff" stroke="#6fb544" stroke-width="0.85"/>
<rect x="372.63" y="340.16" width="3.68" height="3.68" fill="#fff" stroke="#6fb544" stroke-width="0.85"/>
<path d="M385.67 326.25L387.67 328.25L385.67 330.25L383.67 328.25Z" fill="#fff" stroke="#2f55c8" stroke-width="0.7"/>
<circle cx="391.28" cy="347.50" r="1.60" fill="#fff" stroke="#2f55c8" stroke-width="0.7"/>
<path d="M396.88 344.25L398.88 346.25L396.88 348.25L394.88 346.25Z" fill="#fff" stroke="#2f55c8" stroke-width="0.7"/>
<circle cx="408.09" cy="346.20" r="1.60" fill="#fff" stroke="#6a2c96" stroke-width="0.7"/>
<circle cx="408.09" cy="349.45" r="1.60" fill="#fff" stroke="#6a2c96" stroke-width="0.7"/>
<path d="M413.69 339.28L415.61 342.74L411.77 342.74Z" fill="#fff" stroke="#6a2c96" stroke-width="0.7"/>
<path d="M419.30 331.37L421.22 327.91L417.38 327.91Z" fill="#fff" stroke="#6a2c96" stroke-width="0.7"/>
<path d="M424.90 327.62L426.82 324.16L422.98 324.16Z" fill="#fff" stroke="#6a2c96" stroke-width="0.7"/>
<path d="M430.51 298.78L432.43 302.24L428.59 302.24Z" fill="#fff" stroke="#6a2c96" stroke-width="0.7"/>
<path d="M436.11 325.20L438.11 327.20L436.11 329.20L434.11 327.20Z" fill="#fff" stroke="#6a2c96" stroke-width="0.7"/>
<path d="M441.71 354.12L443.63 350.66L439.79 350.66Z" fill="#fff" stroke="#6a2c96" stroke-width="0.7"/>
<path d="M447.32 311.70L449.32 313.70L447.32 315.70L445.32 313.70Z" fill="#fff" stroke="#6a2c96" stroke-width="0.7"/>
<path d="M452.92 333.48L454.84 336.94L451.00 336.94Z" fill="#fff" stroke="#6a2c96" stroke-width="0.7"/>
<path d="M458.53 330.82L460.45 327.36L456.61 327.36Z" fill="#fff" stroke="#6a2c96" stroke-width="0.7"/>
<path d="M464.13 319.02L466.05 315.56L462.21 315.56Z" fill="#fff" stroke="#6a2c96" stroke-width="0.7"/>
<path d="M469.73 312.28L471.65 315.74L467.81 315.74Z" fill="#fff" stroke="#6a2c96" stroke-width="0.7"/>
<path d="M475.34 345.40L477.34 347.40L475.34 349.40L473.34 347.40Z" fill="#fff" stroke="#6a2c96" stroke-width="0.7"/>
<path d="M480.94 347.78L482.86 351.24L479.02 351.24Z" fill="#fff" stroke="#6a2c96" stroke-width="0.7"/>
<path d="M486.55 344.42L488.47 340.96L484.63 340.96Z" fill="#fff" stroke="#6a2c96" stroke-width="0.7"/>
<path d="M492.15 343.80L494.15 345.80L492.15 347.80L490.15 345.80Z" fill="#fff" stroke="#6a2c96" stroke-width="0.7"/>
<circle cx="492.15" cy="349.30" r="1.60" fill="#fff" stroke="#6a2c96" stroke-width="0.7"/>
<path d="M497.75 337.72L499.67 334.26L495.83 334.26Z" fill="#fff" stroke="#6a2c96" stroke-width="0.7"/>
<path d="M503.36 334.32L505.28 330.86L501.44 330.86Z" fill="#fff" stroke="#6a2c96" stroke-width="0.7"/>
<path d="M508.96 341.50L510.96 343.50L508.96 345.50L506.96 343.50Z" fill="#fff" stroke="#6a2c96" stroke-width="0.7"/>
<rect x="345.75" y="224.60" width="1.2" height="129.90" fill="#34505c"/>
<rect x="345.75" y="353.15" width="167.35" height="1.4" fill="#34505c"/>
<rect x="341.75" y="353.15" width="4.6" height="1.4" fill="#34505c"/>
<text x="339.45" y="356.80" text-anchor="end" font-size="7.9" fill="#3a4e5a">0.0000</text>
<rect x="343.35" y="331.86" width="3.0" height="1.1" fill="#34505c"/>
<rect x="341.75" y="310.37" width="4.6" height="1.2" fill="#34505c"/>
<text x="339.45" y="313.92" text-anchor="end" font-size="7.9" fill="#3a4e5a">0.0025</text>
<rect x="343.35" y="288.98" width="3.0" height="1.1" fill="#34505c"/>
<rect x="341.75" y="267.48" width="4.6" height="1.2" fill="#34505c"/>
<text x="339.45" y="271.03" text-anchor="end" font-size="7.9" fill="#3a4e5a">0.0050</text>
<rect x="343.35" y="246.09" width="3.0" height="1.1" fill="#34505c"/>
<rect x="341.75" y="224.60" width="4.6" height="1.2" fill="#34505c"/>
<text x="339.45" y="228.15" text-anchor="end" font-size="7.9" fill="#3a4e5a">0.0075</text>
<text transform="translate(297.70 289.52) rotate(-90)" text-anchor="middle" font-size="7.9" fill="#5f6a71">Normalized cytotoxin</text>
<text transform="translate(307.60 289.52) rotate(-90)" text-anchor="middle" font-size="7.9" fill="#5f6a71">content (mg/kg)</text>
<text x="428.7" y="231.8" text-anchor="middle" font-size="7.9" font-weight="bold" fill="#111">PBD ADCs</text>
<g font-size="5.65" fill="#606c74"><text transform="translate(353.90 356.85) rotate(-90)" text-anchor="end">SJG-136 (Q3W)</text><text transform="translate(359.50 356.85) rotate(-90)" text-anchor="end">SJG-136 (QDx3)</text><text transform="translate(365.11 356.85) rotate(-90)" text-anchor="end">SJG-136 (D1,D8,D15)</text><text transform="translate(376.32 356.85) rotate(-90)" text-anchor="end">Loncastuximab tesirine</text><text transform="translate(387.52 356.85) rotate(-90)" text-anchor="end">ADCT-601</text><text transform="translate(393.13 356.85) rotate(-90)" text-anchor="end">ADCT-602</text><text transform="translate(398.73 356.85) rotate(-90)" text-anchor="end">IMGN632</text><text transform="translate(409.94 356.85) rotate(-90)" text-anchor="end">ADCT-301 (HL)</text><text transform="translate(415.54 356.85) rotate(-90)" text-anchor="end">ADCT-301 (T-cell NHL)</text><text transform="translate(421.15 356.85) rotate(-90)" text-anchor="end">ADCT-301 (solid tumors)</text><text transform="translate(426.75 356.85) rotate(-90)" text-anchor="end">ADCT-502</text><text transform="translate(432.36 356.85) rotate(-90)" text-anchor="end">SC-002</text><text transform="translate(437.96 356.85) rotate(-90)" text-anchor="end">SC-004</text><text transform="translate(443.56 356.85) rotate(-90)" text-anchor="end">SC-006</text><text transform="translate(449.17 356.85) rotate(-90)" text-anchor="end">Rovalpituzumab tesirine</text><text transform="translate(454.77 356.85) rotate(-90)" text-anchor="end">MEDI2228</text><text transform="translate(460.38 356.85) rotate(-90)" text-anchor="end">MEDI7247</text><text transform="translate(465.98 356.85) rotate(-90)" text-anchor="end">MEDI3726/ADCT-401</text><text transform="translate(471.58 356.85) rotate(-90)" text-anchor="end">Tamrintamab pamozirine</text><text transform="translate(477.19 356.85) rotate(-90)" text-anchor="end">Vadastuximab talirine</text><text transform="translate(482.79 356.85) rotate(-90)" text-anchor="end">SGN-CD70A</text><text transform="translate(488.40 356.85) rotate(-90)" text-anchor="end">SGN-CD352A</text><text transform="translate(494.00 356.85) rotate(-90)" text-anchor="end">Serclutamab talirine</text><text transform="translate(499.60 356.85) rotate(-90)" text-anchor="end">ABBV-176</text><text transform="translate(505.21 356.85) rotate(-90)" text-anchor="end">RG6109</text><text transform="translate(510.81 356.85) rotate(-90)" text-anchor="end">TAK-164</text></g>
<rect x="49.15" y="517.50" width="3.7" height="65.50" fill="#707070"/>
<line x1="51.00" x2="51.00" y1="517.50" y2="477.50" stroke="#adadad" stroke-width="0.7"/>
<rect x="54.76" y="558.75" width="3.7" height="24.25" fill="#707070"/>
<line x1="56.61" x2="56.61" y1="558.75" y2="543.75" stroke="#adadad" stroke-width="0.7"/>
<rect x="60.36" y="540.00" width="3.7" height="43.00" fill="#707070"/>
<rect x="65.97" y="453.75" width="3.7" height="129.25" fill="#707070"/>
<rect x="71.58" y="560.00" width="3.7" height="23.00" fill="#707070"/>
<rect x="77.19" y="548.75" width="3.7" height="34.25" fill="#707070"/>
<rect x="82.79" y="568.25" width="3.7" height="14.75" fill="#707070"/>
<rect x="94.01" y="552.50" width="3.7" height="30.50" fill="#93c962"/>
<rect x="99.61" y="548.75" width="3.7" height="34.25" fill="#93c962"/>
<rect x="105.22" y="540.50" width="3.7" height="42.50" fill="#93c962"/>
<rect x="116.43" y="565.75" width="3.7" height="17.25" fill="#3d92f0"/>
<rect x="122.04" y="551.25" width="3.7" height="31.75" fill="#3d92f0"/>
<rect x="127.65" y="548.75" width="3.7" height="34.25" fill="#3d92f0"/>
<rect x="133.26" y="550.00" width="3.7" height="33.00" fill="#3d92f0"/>
<rect x="138.86" y="562.00" width="3.7" height="21.00" fill="#3d92f0"/>
<rect x="144.47" y="561.50" width="3.7" height="21.50" fill="#3d92f0"/>
<rect x="150.08" y="552.50" width="3.7" height="30.50" fill="#3d92f0"/>
<rect x="155.68" y="556.50" width="3.7" height="26.50" fill="#3d92f0"/>
<rect x="161.29" y="558.50" width="3.7" height="24.50" fill="#3d92f0"/>
<rect x="166.90" y="554.50" width="3.7" height="28.50" fill="#3d92f0"/>
<rect x="172.50" y="573.25" width="3.7" height="9.75" fill="#3d92f0"/>
<rect x="178.11" y="546.25" width="3.7" height="36.75" fill="#3d92f0"/>
<rect x="183.72" y="556.25" width="3.7" height="26.75" fill="#3d92f0"/>
<rect x="189.33" y="562.50" width="3.7" height="20.50" fill="#3d92f0"/>
<rect x="194.93" y="572.50" width="3.7" height="10.50" fill="#3d92f0"/>
<rect x="200.54" y="556.50" width="3.7" height="26.50" fill="#3d92f0"/>
<rect x="206.15" y="537.00" width="3.7" height="46.00" fill="#3d92f0"/>
<rect x="211.75" y="568.25" width="3.7" height="14.75" fill="#3d92f0"/>
<rect x="217.36" y="555.50" width="3.7" height="27.50" fill="#3d92f0"/>
<rect x="222.97" y="573.75" width="3.7" height="9.25" fill="#3d92f0"/>
<rect x="228.57" y="572.50" width="3.7" height="10.50" fill="#3d92f0"/>
<rect x="234.18" y="570.50" width="3.7" height="12.50" fill="#3d92f0"/>
<rect x="239.79" y="574.25" width="3.7" height="8.75" fill="#3d92f0"/>
<rect x="245.40" y="570.00" width="3.7" height="13.00" fill="#3d92f0"/>
<rect x="251.00" y="567.50" width="3.7" height="15.50" fill="#3d92f0"/>
<rect x="256.61" y="568.75" width="3.7" height="14.25" fill="#3d92f0"/>
<rect x="262.22" y="567.50" width="3.7" height="15.50" fill="#3d92f0"/>
<rect x="267.82" y="574.25" width="3.7" height="8.75" fill="#3d92f0"/>
<rect x="273.43" y="579.25" width="3.7" height="3.75" fill="#3d92f0"/>
<rect x="279.04" y="571.25" width="3.7" height="11.75" fill="#3d92f0"/>
<rect x="284.64" y="570.00" width="3.7" height="13.00" fill="#3d92f0"/>
<rect x="290.25" y="533.75" width="3.7" height="49.25" fill="#3d92f0"/>
<rect x="295.86" y="510.75" width="3.7" height="72.25" fill="#3d92f0"/>
<rect x="307.07" y="554.25" width="3.7" height="28.75" fill="#843fb2"/>
<rect x="312.68" y="515.50" width="3.7" height="67.50" fill="#843fb2"/>
<rect x="318.29" y="545.00" width="3.7" height="38.00" fill="#843fb2"/>
<rect x="49.16" y="475.66" width="3.68" height="3.68" fill="#fff" stroke="#666666" stroke-width="0.85"/>
<rect x="49.16" y="554.91" width="3.68" height="3.68" fill="#fff" stroke="#666666" stroke-width="0.85"/>
<path d="M56.61 541.75L58.61 543.75L56.61 545.75L54.61 543.75Z" fill="#fff" stroke="#666666" stroke-width="0.7"/>
<path d="M56.61 571.25L58.61 573.25L56.61 575.25L54.61 573.25Z" fill="#fff" stroke="#666666" stroke-width="0.7"/>
<rect x="60.37" y="538.16" width="3.68" height="3.68" fill="#fff" stroke="#666666" stroke-width="0.85"/>
<path d="M67.82 451.75L69.82 453.75L67.82 455.75L65.82 453.75Z" fill="#fff" stroke="#666666" stroke-width="0.7"/>
<path d="M73.43 558.08L75.35 561.54L71.51 561.54Z" fill="#fff" stroke="#666666" stroke-width="0.7"/>
<circle cx="79.03" cy="548.75" r="1.60" fill="#fff" stroke="#666666" stroke-width="0.7"/>
<rect x="82.80" y="566.41" width="3.68" height="3.68" fill="#fff" stroke="#666666" stroke-width="0.85"/>
<rect x="94.02" y="550.66" width="3.68" height="3.68" fill="#fff" stroke="#6fb544" stroke-width="0.85"/>
<rect x="99.62" y="546.91" width="3.68" height="3.68" fill="#fff" stroke="#6fb544" stroke-width="0.85"/>
<rect x="105.23" y="538.66" width="3.68" height="3.68" fill="#fff" stroke="#6fb544" stroke-width="0.85"/>
<circle cx="118.28" cy="565.75" r="1.60" fill="#fff" stroke="#2f55c8" stroke-width="0.7"/>
<path d="M123.89 549.25L125.89 551.25L123.89 553.25L121.89 551.25Z" fill="#fff" stroke="#2f55c8" stroke-width="0.7"/>
<path d="M129.50 546.75L131.50 548.75L129.50 550.75L127.50 548.75Z" fill="#fff" stroke="#2f55c8" stroke-width="0.7"/>
<circle cx="135.11" cy="546.25" r="1.60" fill="#fff" stroke="#2f55c8" stroke-width="0.7"/>
<circle cx="135.11" cy="551.25" r="1.60" fill="#fff" stroke="#2f55c8" stroke-width="0.7"/>
<circle cx="135.11" cy="555.00" r="1.60" fill="#fff" stroke="#2f55c8" stroke-width="0.7"/>
<circle cx="140.71" cy="562.00" r="1.60" fill="#fff" stroke="#2f55c8" stroke-width="0.7"/>
<circle cx="146.32" cy="553.75" r="1.60" fill="#fff" stroke="#2f55c8" stroke-width="0.7"/>
<circle cx="146.32" cy="558.00" r="1.60" fill="#fff" stroke="#2f55c8" stroke-width="0.7"/>
<circle cx="146.32" cy="562.00" r="1.60" fill="#fff" stroke="#2f55c8" stroke-width="0.7"/>
<circle cx="146.32" cy="565.50" r="1.60" fill="#fff" stroke="#2f55c8" stroke-width="0.7"/>
<circle cx="146.32" cy="568.25" r="1.60" fill="#fff" stroke="#2f55c8" stroke-width="0.7"/>
<circle cx="151.93" cy="552.50" r="1.60" fill="#fff" stroke="#2f55c8" stroke-width="0.7"/>
<path d="M157.53 550.00L159.53 552.00L157.53 554.00L155.53 552.00Z" fill="#fff" stroke="#2f55c8" stroke-width="0.7"/>
<circle cx="157.53" cy="558.00" r="1.60" fill="#fff" stroke="#2f55c8" stroke-width="0.7"/>
<circle cx="163.14" cy="554.50" r="1.60" fill="#fff" stroke="#2f55c8" stroke-width="0.7"/>
<circle cx="163.14" cy="560.75" r="1.60" fill="#fff" stroke="#2f55c8" stroke-width="0.7"/>
<circle cx="168.75" cy="554.50" r="1.60" fill="#fff" stroke="#2f55c8" stroke-width="0.7"/>
<circle cx="174.35" cy="573.25" r="1.60" fill="#fff" stroke="#2f55c8" stroke-width="0.7"/>
<path d="M179.96 544.33L181.88 547.79L178.04 547.79Z" fill="#fff" stroke="#2f55c8" stroke-width="0.7"/>
<path d="M185.57 554.33L187.49 557.79L183.65 557.79Z" fill="#fff" stroke="#2f55c8" stroke-width="0.7"/>
<circle cx="191.18" cy="560.00" r="1.60" fill="#fff" stroke="#2f55c8" stroke-width="0.7"/>
<circle cx="191.18" cy="563.00" r="1.60" fill="#fff" stroke="#2f55c8" stroke-width="0.7"/>
<circle cx="196.78" cy="572.50" r="1.60" fill="#fff" stroke="#2f55c8" stroke-width="0.7"/>
<circle cx="202.39" cy="550.00" r="1.60" fill="#fff" stroke="#2f55c8" stroke-width="0.7"/>
<circle cx="202.39" cy="553.75" r="1.60" fill="#fff" stroke="#2f55c8" stroke-width="0.7"/>
<circle cx="202.39" cy="557.00" r="1.60" fill="#fff" stroke="#2f55c8" stroke-width="0.7"/>
<circle cx="202.39" cy="560.00" r="1.60" fill="#fff" stroke="#2f55c8" stroke-width="0.7"/>
<circle cx="208.00" cy="537.00" r="1.60" fill="#fff" stroke="#2f55c8" stroke-width="0.7"/>
<path d="M213.60 566.33L215.52 569.79L211.68 569.79Z" fill="#fff" stroke="#2f55c8" stroke-width="0.7"/>
<circle cx="219.21" cy="555.50" r="1.60" fill="#fff" stroke="#2f55c8" stroke-width="0.7"/>
<circle cx="224.82" cy="570.00" r="1.60" fill="#fff" stroke="#2f55c8" stroke-width="0.7"/>
<circle cx="224.82" cy="573.25" r="1.60" fill="#fff" stroke="#2f55c8" stroke-width="0.7"/>
<circle cx="224.82" cy="576.25" r="1.60" fill="#fff" stroke="#2f55c8" stroke-width="0.7"/>
<circle cx="230.42" cy="570.00" r="1.60" fill="#fff" stroke="#2f55c8" stroke-width="0.7"/>
<circle cx="230.42" cy="573.75" r="1.60" fill="#fff" stroke="#2f55c8" stroke-width="0.7"/>
<circle cx="236.03" cy="570.50" r="1.60" fill="#fff" stroke="#2f55c8" stroke-width="0.7"/>
<circle cx="236.03" cy="572.50" r="1.60" fill="#fff" stroke="#2f55c8" stroke-width="0.7"/>
<path d="M241.64 572.33L243.56 575.79L239.72 575.79Z" fill="#fff" stroke="#2f55c8" stroke-width="0.7"/>
<circle cx="247.25" cy="568.75" r="1.60" fill="#fff" stroke="#2f55c8" stroke-width="0.7"/>
<circle cx="247.25" cy="571.25" r="1.60" fill="#fff" stroke="#2f55c8" stroke-width="0.7"/>
<circle cx="252.85" cy="566.25" r="1.60" fill="#fff" stroke="#2f55c8" stroke-width="0.7"/>
<circle cx="252.85" cy="568.75" r="1.60" fill="#fff" stroke="#2f55c8" stroke-width="0.7"/>
<circle cx="258.46" cy="567.50" r="1.60" fill="#fff" stroke="#2f55c8" stroke-width="0.7"/>
<circle cx="258.46" cy="570.00" r="1.60" fill="#fff" stroke="#2f55c8" stroke-width="0.7"/>
<circle cx="264.07" cy="567.50" r="1.60" fill="#fff" stroke="#2f55c8" stroke-width="0.7"/>
<path d="M269.67 572.33L271.59 575.79L267.75 575.79Z" fill="#fff" stroke="#2f55c8" stroke-width="0.7"/>
<path d="M275.28 577.33L277.20 580.79L273.36 580.79Z" fill="#fff" stroke="#2f55c8" stroke-width="0.7"/>
<circle cx="280.89" cy="568.00" r="1.60" fill="#fff" stroke="#2f55c8" stroke-width="0.7"/>
<circle cx="280.89" cy="570.75" r="1.60" fill="#fff" stroke="#2f55c8" stroke-width="0.7"/>
<circle cx="280.89" cy="573.00" r="1.60" fill="#fff" stroke="#2f55c8" stroke-width="0.7"/>
<circle cx="286.49" cy="567.00" r="1.60" fill="#fff" stroke="#2f55c8" stroke-width="0.7"/>
<circle cx="286.49" cy="572.50" r="1.60" fill="#fff" stroke="#2f55c8" stroke-width="0.7"/>
<circle cx="292.10" cy="529.25" r="1.60" fill="#fff" stroke="#2f55c8" stroke-width="0.7"/>
<circle cx="292.10" cy="538.00" r="1.60" fill="#fff" stroke="#2f55c8" stroke-width="0.7"/>
<circle cx="297.71" cy="510.75" r="1.60" fill="#fff" stroke="#2f55c8" stroke-width="0.7"/>
<path d="M308.92 552.33L310.84 555.79L307.00 555.79Z" fill="#fff" stroke="#6a2c96" stroke-width="0.7"/>
<circle cx="314.53" cy="515.50" r="1.60" fill="#fff" stroke="#6a2c96" stroke-width="0.7"/>
<path d="M320.14 538.50L322.14 540.50L320.14 542.50L318.14 540.50Z" fill="#fff" stroke="#6a2c96" stroke-width="0.7"/>
<circle cx="320.14" cy="548.25" r="1.60" fill="#fff" stroke="#6a2c96" stroke-width="0.7"/>
<rect x="44.80" y="453.20" width="1.2" height="130.45" fill="#34505c"/>
<rect x="44.80" y="582.30" width="282.00" height="1.4" fill="#34505c"/>
<rect x="40.80" y="582.30" width="4.6" height="1.4" fill="#34505c"/>
<text x="38.50" y="585.95" text-anchor="end" font-size="7.9" fill="#3a4e5a">0.0</text>
<rect x="42.40" y="560.92" width="3.0" height="1.1" fill="#34505c"/>
<rect x="40.80" y="539.33" width="4.6" height="1.2" fill="#34505c"/>
<text x="38.50" y="542.88" text-anchor="end" font-size="7.9" fill="#3a4e5a">0.2</text>
<rect x="42.40" y="517.85" width="3.0" height="1.1" fill="#34505c"/>
<rect x="40.80" y="496.27" width="4.6" height="1.2" fill="#34505c"/>
<text x="38.50" y="499.82" text-anchor="end" font-size="7.9" fill="#3a4e5a">0.4</text>
<rect x="42.40" y="474.78" width="3.0" height="1.1" fill="#34505c"/>
<rect x="40.80" y="453.20" width="4.6" height="1.2" fill="#34505c"/>
<text x="38.50" y="456.75" text-anchor="end" font-size="7.9" fill="#3a4e5a">0.6</text>
<text transform="translate(9.80 518.40) rotate(-90)" text-anchor="middle" font-size="7.9" fill="#5f6a71">Normalized cytotoxin</text>
<text transform="translate(19.30 518.40) rotate(-90)" text-anchor="middle" font-size="7.9" fill="#5f6a71">content (mg/kg)</text>
<text x="190.4" y="458.6" text-anchor="middle" font-size="7.9" font-weight="bold" fill="#111">Camptothecin ADCs</text>
<g font-size="5.65" fill="#606c74"><text transform="translate(52.85 586.00) rotate(-90)" text-anchor="end">Irinotecan (QW3)</text><text transform="translate(58.46 586.00) rotate(-90)" text-anchor="end">Irinotecan (QW)</text><text transform="translate(64.06 586.00) rotate(-90)" text-anchor="end">Topotecan (QDx5)</text><text transform="translate(69.67 586.00) rotate(-90)" text-anchor="end">Topotecan (Q3W)</text><text transform="translate(75.28 586.00) rotate(-90)" text-anchor="end">Topotecan (QW)</text><text transform="translate(80.88 586.00) rotate(-90)" text-anchor="end">Exatecan</text><text transform="translate(86.49 586.00) rotate(-90)" text-anchor="end">Belotecan</text><text transform="translate(97.71 586.00) rotate(-90)" text-anchor="end">Trastuzumab deruxtecan</text><text transform="translate(103.31 586.00) rotate(-90)" text-anchor="end">Trastuzumab deruxtecan (GC)</text><text transform="translate(108.92 586.00) rotate(-90)" text-anchor="end">Sacituzumab govitecan</text><text transform="translate(120.13 586.00) rotate(-90)" text-anchor="end">Datopotamab deruxtecan</text><text transform="translate(125.74 586.00) rotate(-90)" text-anchor="end">Patritumab deruxtecan</text><text transform="translate(131.35 586.00) rotate(-90)" text-anchor="end">Ifinatamab deruxtecan</text><text transform="translate(136.96 586.00) rotate(-90)" text-anchor="end">Raludotatug deruxtecan</text><text transform="translate(142.56 586.00) rotate(-90)" text-anchor="end">GQ1005</text><text transform="translate(148.17 586.00) rotate(-90)" text-anchor="end">JSKN003</text><text transform="translate(153.78 586.00) rotate(-90)" text-anchor="end">FDA022</text><text transform="translate(159.38 586.00) rotate(-90)" text-anchor="end">TQB2102</text><text transform="translate(164.99 586.00) rotate(-90)" text-anchor="end">Trastuzumab rezetecan</text><text transform="translate(170.60 586.00) rotate(-90)" text-anchor="end">Trastuzumab rezetecan (GC)</text><text transform="translate(176.20 586.00) rotate(-90)" text-anchor="end">SHR-A1921</text><text transform="translate(181.81 586.00) rotate(-90)" text-anchor="end">HS-20093</text><text transform="translate(187.42 586.00) rotate(-90)" text-anchor="end">HS-20089</text><text transform="translate(193.03 586.00) rotate(-90)" text-anchor="end">BL-B01D1 (Q3W)</text><text transform="translate(198.63 586.00) rotate(-90)" text-anchor="end">BL-B01D1 (D1,D8)</text><text transform="translate(204.24 586.00) rotate(-90)" text-anchor="end">BL-M07D1</text><text transform="translate(209.85 586.00) rotate(-90)" text-anchor="end">DB-1303</text><text transform="translate(215.45 586.00) rotate(-90)" text-anchor="end">DB-1305</text><text transform="translate(221.06 586.00) rotate(-90)" text-anchor="end">SKB264</text><text transform="translate(226.67 586.00) rotate(-90)" text-anchor="end">ABBV-400</text><text transform="translate(232.27 586.00) rotate(-90)" text-anchor="end">ABBV-706</text><text transform="translate(237.88 586.00) rotate(-90)" text-anchor="end">BAT8006</text><text transform="translate(243.49 586.00) rotate(-90)" text-anchor="end">BAT8008</text><text transform="translate(249.09 586.00) rotate(-90)" text-anchor="end">BAT8010</text><text transform="translate(254.70 586.00) rotate(-90)" text-anchor="end">PRO1184</text><text transform="translate(260.31 586.00) rotate(-90)" text-anchor="end">M9140</text><text transform="translate(265.92 586.00) rotate(-90)" text-anchor="end">IBI-343</text><text transform="translate(271.52 586.00) rotate(-90)" text-anchor="end">MHB088C</text><text transform="translate(277.13 586.00) rotate(-90)" text-anchor="end">MHB036C</text><text transform="translate(282.74 586.00) rotate(-90)" text-anchor="end">YL201</text><text transform="translate(288.34 586.00) rotate(-90)" text-anchor="end">YL202</text><text transform="translate(293.95 586.00) rotate(-90)" text-anchor="end">FDA018</text><text transform="translate(299.56 586.00) rotate(-90)" text-anchor="end">ESG401</text><text transform="translate(310.77 586.00) rotate(-90)" text-anchor="end">DS-6157</text><text transform="translate(316.38 586.00) rotate(-90)" text-anchor="end">Labetuzumab govitecan (Q3W)</text><text transform="translate(321.99 586.00) rotate(-90)" text-anchor="end">Labetuzumab govitecan (QW)</text></g>
<rect x="356.3" y="477.50" width="17.3" height="3.4" fill="#555"/>
<text x="378.4" y="482.40" font-size="8" fill="#555">Small molecule</text>
<rect x="356.3" y="495.10" width="17.3" height="3.4" fill="#93c962"/>
<text x="378.4" y="500.00" font-size="8" fill="#93c962">ADC approved</text>
<rect x="356.3" y="511.40" width="17.3" height="3.4" fill="#3d92f0"/>
<text x="378.4" y="516.30" font-size="8" fill="#3d92f0">ADC in active clinical development</text>
<rect x="356.3" y="527.30" width="17.3" height="3.4" fill="#843fb2"/>
<text x="378.4" y="532.20" font-size="8" fill="#843fb2">ADC discontinued</text>
<text x="360" y="570.8" font-size="7.8" font-weight="bold" font-style="italic" fill="#2f4250">Normalized cytotoxin content</text>
<text x="359.8" y="594.6" font-size="7" fill="#6a7880">=</text>
<rect x="366.5" y="591.5" width="101.6" height="1" fill="#6b6b6b"/>
<g font-style="italic" fill="#435762">
<text x="366.8" y="586" font-size="7.6">Dose</text>
<text x="385.3" y="588" font-size="6.5">ADC</text>
<text x="401.4" y="586" font-size="7.6">·</text>
<text x="405.8" y="586" font-size="7.8">DAR</text>
<text x="424.6" y="586" font-size="7.6">·</text>
<text x="430.6" y="586" font-size="7.8">MW</text>
<text x="444.2" y="588" font-size="6.8">payload</text>
<text x="403.2" y="600" font-size="7.8">MW</text>
<text x="416.9" y="602.2" font-size="6.6">ADC</text>
</g>
</svg>
</body></html>
